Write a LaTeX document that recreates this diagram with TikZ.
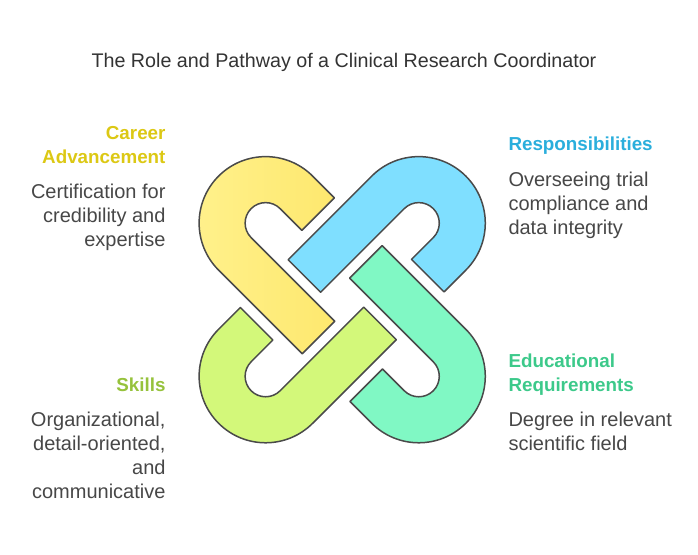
\documentclass[tikz,border=0pt]{standalone}
\usepackage{fontspec}
\setmainfont{Liberation Sans}
\definecolor{cyelA}{HTML}{FFF18C}
\definecolor{cyelB}{HTML}{FEE86E}
\definecolor{cblu}{HTML}{7FDFFF}
\definecolor{cgrn}{HTML}{80F8C4}
\definecolor{clim}{HTML}{D3F87A}
\definecolor{cedge}{HTML}{4A4A4A}
\definecolor{tyel}{HTML}{DCC814}
\definecolor{tblu}{HTML}{2AAEDC}
\definecolor{tgrn}{HTML}{3CC98A}
\definecolor{tlim}{HTML}{96C23C}
\definecolor{tbody}{HTML}{474747}
\definecolor{ttitle}{HTML}{333333}
\tikzset{
  hookshape/.style={draw=cedge, line width=1.5pt, line join=round},
  head/.style={font=\bfseries\fontsize{18.8}{24}\selectfont, inner sep=0pt},
  body/.style={font=\fontsize{20}{24}\selectfont, text=tbody, inner sep=0pt},
}
\newcommand{\hookpath}{(10,-66.5) -- (-108.3,-66.5) arc[start angle=270, end angle=90, radius=66.5] -- (-77.5,66.5) -- (-77.5,20.5) -- (-108.3,20.5) arc[start angle=90, end angle=270, radius=20.5] -- (10,-20.5) -- cycle}
\begin{document}
\begin{tikzpicture}[x=1pt,y=1pt]
\useasboundingbox (0,0) rectangle (698,554);
\coordinate (C) at (342.2,254.3);
\begin{scope}[shift={(C)}, rotate=-45]
  \shade[left color=cyelA, right color=cyelB] \hookpath;
  \draw[hookshape] \hookpath;
\end{scope}
\begin{scope}[shift={(C)}, rotate=-135]
  \filldraw[hookshape, fill=cblu] \hookpath;
\end{scope}
\begin{scope}[shift={(C)}, rotate=135]
  \filldraw[hookshape, fill=cgrn] \hookpath;
\end{scope}
\begin{scope}[shift={(C)}, rotate=45]
  \filldraw[hookshape, fill=clim] \hookpath;
\end{scope}
\node[font=\fontsize{19.7}{22}\selectfont, text=ttitle, anchor=base, inner sep=0pt] (title) at (344,486.7) {The Role and Pathway of a Clinical Research Coordinator};
\node[head, text=tyel, anchor=base east, align=right] (h1) at (165.7,390.7) {Career\\Advancement};
\node[body, anchor=base east, align=right] (b1) at (165.7,307.3) {Certification for\\credibility and\\expertise};
\node[head, text=tblu, anchor=base west, align=left] (h2) at (508.3,403.3) {Responsibilities};
\node[body, anchor=base west, align=left] (b2) at (508.3,319) {Overseeing trial\\compliance and\\data integrity};
\node[head, text=tlim, anchor=base east, align=right] (h3) at (165.7,162.3) {Skills};
\node[body, anchor=base east, align=right] (b3) at (165.7,55.7) {Organizational,\\detail-oriented,\\and\\communicative};
\node[head, text=tgrn, anchor=base west, align=left] (h4) at (508.3,162.3) {Educational\\Requirements};
\node[body, anchor=base west, align=left] (b4) at (508.3,103.3) {Degree in relevant\\scientific field};
\end{tikzpicture}
\end{document}
